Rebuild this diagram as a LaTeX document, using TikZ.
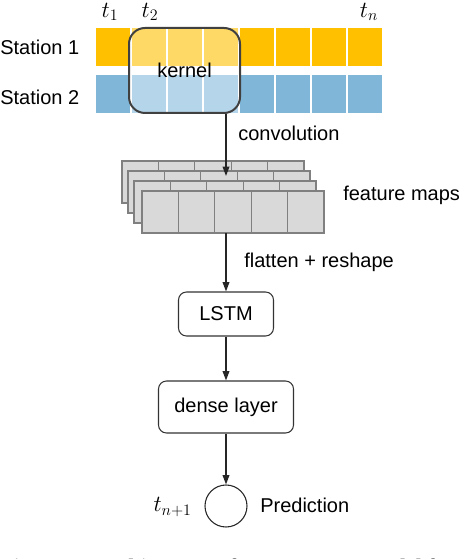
\documentclass[tikz,border=0pt]{standalone}
\usepackage{fontspec}
\setmainfont{Liberation Sans}
\newfontfamily\capfont{Liberation Serif}
\usetikzlibrary{arrows.meta}
\definecolor{ydark}{HTML}{FFC000}
\definecolor{ylight}{HTML}{FFD966}
\definecolor{bdark}{HTML}{80B6D8}
\definecolor{blight}{HTML}{B5D5EA}
\definecolor{fmfill}{HTML}{D9D9D9}
\definecolor{fmline}{HTML}{808080}
\definecolor{kline}{HTML}{404040}
\begin{document}
\begin{tikzpicture}[x=0.75pt,y=-0.75pt,
  lbl/.style={font=\fontsize{15}{18}\selectfont, inner sep=0pt},
  cellbox/.style={draw=white, line width=0.9pt},
  fmcell/.style={draw=fmline, fill=fmfill, line width=0.9pt},
  procbox/.style={draw=black!80, rounded corners=6pt, line width=0.8pt, font=\fontsize{15}{18}\selectfont, inner sep=0pt},
  conn/.style={draw=black!85, line width=1pt, -{Triangle[length=7pt,width=5pt]}},
  mathlbl/.style={inner sep=0pt, font=\fontsize{17}{19}\selectfont}]
\useasboundingbox (0,0) rectangle (474,559);
\clip (0,0) rectangle (474,559);
% station rows
\foreach \i in {0,...,7}{
  \pgfmathsetmacro{\xa}{95+36*\i}
  \pgfmathsetmacro{\xb}{95+36*(\i+1)}
  \ifnum\i>0 \ifnum\i<4
    \def\cy{ylight}\def\cb{blight}
  \else
    \def\cy{ydark}\def\cb{bdark}
  \fi\else
    \def\cy{ydark}\def\cb{bdark}
  \fi
  \fill[\cy] (\xa,27) rectangle (\xb,67);
  \fill[\cb] (\xa,74) rectangle (\xb,114);
  \draw[cellbox] (\xa,27) rectangle (\xb,67);
  \draw[cellbox] (\xa,74) rectangle (\xb,114);
}
\node[lbl, anchor=west] (s1) at (0,47) {Station 1};
\node[lbl, anchor=west] (s2) at (0,97) {Station 2};
\node[mathlbl] (t1) at (110,12) {$t_1$};
\node[mathlbl] (t2) at (150,12) {$t_2$};
\node[mathlbl] (tn) at (369,12) {$t_n$};
\node[draw=kline, line width=1.5pt, rounded corners=12pt, minimum width=111*0.75pt, minimum height=85*0.75pt, inner sep=0pt, font=\fontsize{15}{18}\selectfont] (kernel) at (184.5,70.5) {kernel};
% feature maps
\foreach \k/\dx/\dy in {0/122/161,1/128/171,2/134/181,3/142/191}{
  \foreach \j in {0,...,4}{
    \pgfmathsetmacro{\xa}{\dx+36.4*\j}
    \pgfmathsetmacro{\xb}{\dx+36.4*(\j+1)}
    \draw[fmcell] (\xa,\dy) rectangle (\xb,\dy+42);
  }
}
\coordinate (fmtop) at (226,176);
\coordinate (fmbot) at (226,233);
\node[lbl, anchor=west] (conv) at (238,133) {convolution};
\node[lbl, anchor=west] (fmap) at (343,195) {feature maps};
\node[lbl, anchor=west] (flat) at (244,262) {flatten + reshape};
\node[procbox, minimum width=95*0.75pt, minimum height=44*0.75pt] (lstm) at (226,314) {LSTM};
\node[procbox, minimum width=135*0.75pt, minimum height=52*0.75pt] (dense) at (226,407) {dense layer};
\node[draw=black!85, line width=0.8pt, circle, minimum size=42*0.75pt, inner sep=0pt] (pred) at (226,506) {};
\node[mathlbl, anchor=east] (tn1) at (192,507) {$t_{n+1}$};
\node[lbl, anchor=west] (plbl) at (260,505) {Prediction};
\draw[conn] (kernel.south -| fmtop) -- (fmtop);
\draw[conn] (fmbot) -- (lstm.north);
\draw[conn] (lstm.south) -- (dense.north);
\draw[conn] (dense.south) -- (pred.north);
\node[inner sep=0pt, anchor=base west, font=\capfont\bfseries\fontsize{16.5}{18}\selectfont] (cap) at (0,574.5) {Figure 4: Architecture of CNN-LSTM model for};
\end{tikzpicture}
\end{document}
